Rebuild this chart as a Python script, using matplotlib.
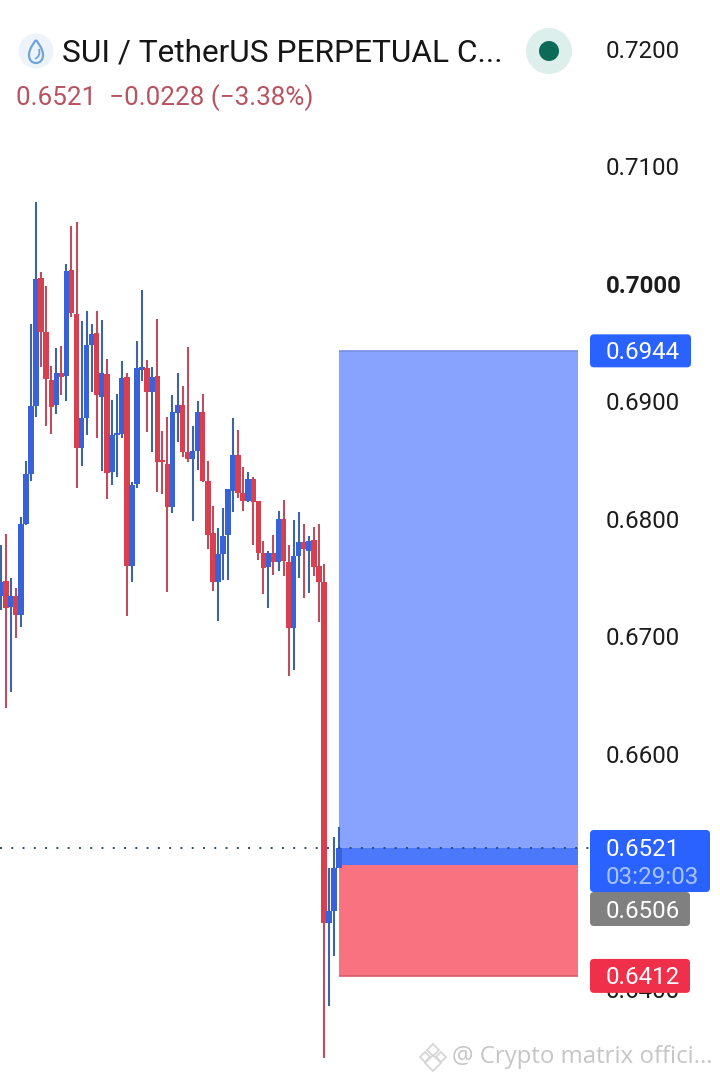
import matplotlib
matplotlib.use('Agg')
import matplotlib.pyplot as plt
from matplotlib.patches import Circle, FancyBboxPatch, PathPatch
from matplotlib.path import Path
from matplotlib.transforms import IdentityTransform, Affine2D

plt.rcParams['font.family'] = ['Roboto', 'DejaVu Sans']

W, H = 720, 1082

highs = [.6779, .6788, .6751, .6742, .6803, .6850, .6967, .7071, .7011, .6999, .6931, .6946, .6948, .7018,
         .7050, .7054, .6969, .6978, .6967, .6978, .6970, .6937, .6902, .6907, .6935, .6925, .6832, .6952,
         .6996, .6936, .6930, .6971, .6876, .6888, .6906, .6925, .6914, .6947, .6880, .6901, .6907, .6850,
         .6812, .6793, .6810, .6826, .6887, .6877, .6845, .6841, .6837, .6816, .6782, .6774, .6787, .6808,
         .6817, .6779, .6800, .6807, .6797, .6786, .6794, .6797, .6763, .6504, .6530, .6539]
lows = [.6723, .6640, .6654, .6700, .6709, .6796, .6833, .6888, .6930, .6880, .6873, .6890, .6906, .6901,
        .6973, .6827, .6846, .6872, .6909, .6870, .6842, .6818, .6830, .6837, .6870, .6718, .6747, .6827,
        .6918, .6875, .6858, .6824, .6822, .6739, .6806, .6866, .6854, .6849, .6799, .6843, .6832, .6775,
        .6740, .6714, .6749, .6749, .6807, .6819, .6808, .6815, .6779, .6766, .6737, .6725, .6753, .6757,
        .6752, .6667, .6672, .6751, .6734, .6738, .6752, .6713, .6342, .6386, .6429, .6504]
opens = [.6735, .6748, .6726, .6735, .6719, .6797, .6839, .6897, .7006, .6960, .6919, .6898, .6925, .6923,
         .7013, .6975, .6861, .6887, .6949, .6959, .6905, .6924, .6841, .6872, .6873, .6922, .6761, .6831,
         .6928, .6929, .6909, .6923, .6850, .6848, .6811, .6891, .6898, .6858, .6852, .6859, .6892, .6833,
         .6789, .6747, .6771, .6787, .6825, .6855, .6823, .6816, .6835, .6816, .6772, .6760, .6772, .6764,
         .6801, .6764, .6708, .6769, .6781, .6774, .6783, .6761, .6747, .6457, .6467, .6504]
closes = [.6747, .6725, .6735, .6719, .6797, .6839, .6897, .7005, .6960, .6920, .6896, .6925, .6922, .7012,
          .6976, .6861, .6887, .6949, .6958, .6906, .6925, .6840, .6872, .6873, .6921, .6761, .6830, .6929,
          .6930, .6909, .6922, .6849, .6849, .6811, .6892, .6898, .6858, .6852, .6859, .6892, .6833, .6787,
          .6747, .6771, .6786, .6826, .6855, .6823, .6816, .6835, .6815, .6772, .6759, .6772, .6764, .6801,
          .6765, .6708, .6769, .6781, .6775, .6782, .6760, .6747, .6457, .6467, .6504, .6521]

tick_prices = [.72, .71, .70, .69, .68, .67, .66, .64]
tick_labels = ['0.7200', '0.7100', '0.7000', '0.6900', '0.6800', '0.6700', '0.6600', '0.6400']

last_price = 0.6521
entry_price = 0.6506
target_price = 0.6944
stop_price = 0.6412
timer = '03:29:03'
title = 'SUI / TetherUS PERPETUAL C...'
change = '0.6521  \u22120.0228 (\u22123.38%)'
watermark = '@ Crypto matrix offici...'

BLUE, RED = '#3a62d8', '#d9404f'
BLUE_WICK, RED_WICK = '#3d659f', '#bc4f5f'
FS = 17.4

fig = plt.figure(figsize=(W / 100, H / 100), dpi=100, facecolor='white')
ax = fig.add_axes([0, 0, 600 / W, 1])

# one candle is about 5.05 px wide, first one sits at x=0.75
ax.set_xlim(-0.15, 118.66)
ax.set_ylim(0.63217, 0.72426)
ax.set_xticks([])
ax.set_yticks(tick_prices)
ax.set_yticklabels(tick_labels, va='center_baseline')
ax.yaxis.tick_right()
ax.tick_params(axis='y', length=0, pad=4.4, labelsize=FS, labelcolor='#1c1c1c')
ax.get_yticklabels()[2].set_fontweight('bold')
# labels sit a px higher than the price they mark
for lab in ax.get_yticklabels():
    lab.set_transform(lab.get_transform() + Affine2D().translate(0, 1.2))
for s in ax.spines.values():
    s.set_visible(False)

# position tool
box_l, box_w = 67, 47.3
ax.bar(box_l, target_price - last_price, box_w, bottom=last_price, align='edge', color='#87a3fd', zorder=1)
ax.bar(box_l, last_price - entry_price, box_w, bottom=entry_price, align='edge', color='#4c78fb', zorder=1)
ax.bar(box_l, entry_price - stop_price, box_w, bottom=stop_price, align='edge', color='#f8737f', zorder=1)
ax.hlines(target_price, box_l, box_l + box_w, color='#7690e4', lw=1.2, zorder=1.5)
ax.hlines(stop_price, box_l, box_l + box_w, color='#d85a6a', lw=1.2, zorder=1.5)

for i in range(len(opens)):
    up = closes[i] >= opens[i]
    ax.vlines(i, lows[i], highs[i], color=BLUE_WICK if up else RED_WICK, lw=1.5, zorder=2)
    top, bot = max(opens[i], closes[i]), min(opens[i], closes[i])
    ax.bar(i, max(top - bot, 0.0002), 1.08, bottom=bot, color=BLUE if up else RED, zorder=3)

ax.plot([-0.15, 118.66], [last_price, last_price], color='#274c6e', lw=1.4, ls=(0, (1, 4.8)), zorder=4)


def py(price):
    return ax.transData.transform((0, price))[1]


def add_tag(x0, x1, yc, h, color):
    fig.add_artist(FancyBboxPatch((x0 + 3, yc - h / 2 + 3), x1 - x0 - 6, h - 6, boxstyle='round,pad=3,rounding_size=4',
                                  fc=color, ec='none', transform=IdentityTransform(), zorder=2))


def add_text(x, y, s, color='white', size=FS, **kw):
    fig.text(x, H - y - 2, s, color=color, fontsize=size, va='center', transform=IdentityTransform(), zorder=5, **kw)


add_tag(590, 691, py(target_price), 33, '#2962ff')
add_text(606, H - py(target_price), '0.6944')
add_tag(590, 690, H - 909, 34, '#808080')
add_text(606, 909, '0.6506')
add_tag(590, 710, H - 861, 62, '#2962ff')
add_text(606, 848, '0.6521')
add_text(606, 876, timer, color='#a8c4ff')
add_tag(590, 690, py(stop_price), 34, '#f0304a')
add_text(606, H - py(stop_price), '0.6412')

# header
fig.add_artist(Circle((36, H - 51), 17.5, fc='#eef3fa', ec='none', transform=IdentityTransform()))
drop = Path([(36, H - 40), (36, H - 40), (29, H - 48), (29, H - 55), (29, H - 60), (32, H - 63), (36, H - 63),
             (40, H - 63), (43, H - 60), (43, H - 55), (43, H - 48), (36, H - 40), (36, H - 40)],
            [Path.MOVETO] + [Path.CURVE4] * 12)
fig.add_artist(PathPatch(drop, fc='none', ec='#6ea6d8', lw=1.6, transform=IdentityTransform()))
swirl = Path([(39, H - 49), (41, H - 56), (35, H - 59)], [Path.MOVETO, Path.CURVE3, Path.CURVE3])
fig.add_artist(PathPatch(swirl, fc='none', ec='#6ea6d8', lw=1.3, transform=IdentityTransform()))
add_text(62, 51, title, color='#161616', size=22.8)
add_text(16, 96, change, color='#b8525f', size=18.7)
fig.add_artist(Circle((549, H - 51), 23, fc='#dcefeb', ec='none', transform=IdentityTransform()))
fig.add_artist(Circle((549, H - 51), 10, fc='#0b6b57', ec='none', transform=IdentityTransform()))

# watermark
for dx, dy, s in [(0, 7, 6), (-8, 0, 5), (8, 0, 5), (0, -6, 8)]:
    fig.add_artist(plt.Line2D([433 + dx], [H - 1057 + dy], marker='D', ms=s, mfc='none', mec='#d6d6d6', mew=1.3,
                              transform=IdentityTransform()))
add_text(452, 1055, watermark, color='#c6c6c6', size=17.3, family=['Open Sans', 'DejaVu Sans'])

fig.savefig('out.png', dpi=100)
